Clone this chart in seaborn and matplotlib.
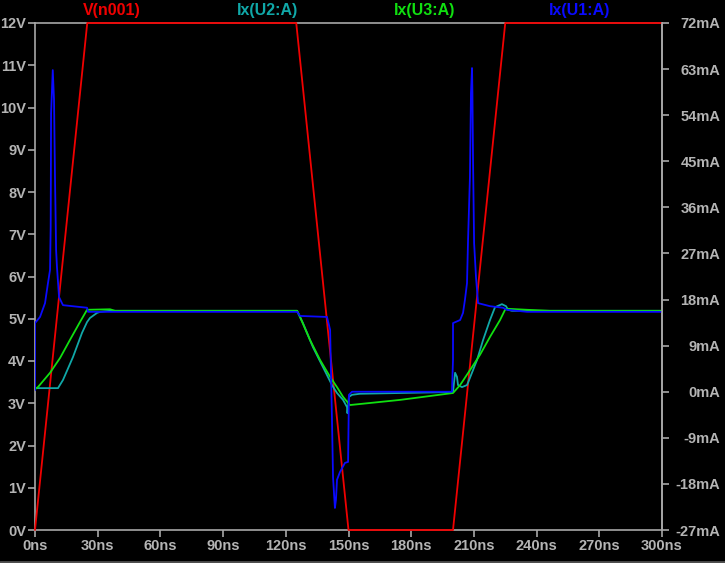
import numpy as np
import pandas as pd
import matplotlib
matplotlib.use("Agg")
import matplotlib.pyplot as plt
import seaborn as sns
from matplotlib.lines import Line2D

# V(n001) -- trapezoid drive, volts
t_v = [0, 25, 125, 150, 200, 225, 300]
v_n001 = [0, 12, 12, 0, 0, 12, 12]

# Ix(U2:A), mA
t_u2 = [0, 11.0, 13.4, 18.2, 22.5, 24.9, 26.3, 29.7, 31.1, 35.9, 125.4, 128.2, 133.0, 137.8,
        142.1, 144.5, 147.4, 149.3, 149.5, 149.8, 150.2, 151.7, 155.5, 200.0, 201.0, 201.9,
        202.4, 204.3, 206.7, 208.1, 211.5, 214.4, 217.7, 220.1, 223.4, 225.4, 226.3, 228.2, 300]
i_u2 = [0.7, 0.7, 2.3, 6.8, 11.5, 13.6, 14.4, 15.4, 15.6, 15.8, 15.8, 13.4, 8.7, 4.8,
        1.3, -0.25, -1.6, -3.0, -4.2, -3.0, -1.0, -0.6, -0.4, -0.05, 3.7, 2.9,
        1.3, 0.9, 1.3, 2.7, 6.2, 10.1, 14.0, 16.5, 17.1, 16.7, 16.0, 15.8, 15.8]

# Ix(U3:A), mA
t_u3 = [0, 1.4, 7.2, 12.0, 16.7, 21.5, 24.9, 35.9, 38.3, 125.4, 126.8, 131.6, 136.4, 141.2,
        144.5, 147.4, 149.8, 150.7, 174.6, 200.0, 203.4, 208.1, 212.9, 217.7, 222.5, 224.9,
        225.8, 235.4, 246.4, 300]
i_u3 = [0.5, 0.9, 3.7, 6.6, 10.1, 13.6, 16.0, 16.1, 15.8, 15.8, 14.6, 10.1, 6.2, 2.9,
        0.9, -1.0, -2.2, -2.6, -1.6, -0.25, 1.3, 4.2, 7.2, 10.7, 14.0, 16.0,
        16.2, 16.0, 15.8, 15.8]

# Ix(U1:A), mA
t_u1 = [0, 0.01, 2.4, 4.8, 6.2, 7.2, 7.5, 7.7, 8.5, 9.1, 9.6, 10.1, 10.5, 11.5, 12.9, 13.4,
        24.9, 25.4, 125.4, 126.8, 139.7, 141.2, 142.1, 142.6, 143.5, 144.0, 144.5, 145.9,
        148.3, 149.8, 150.2, 151.7, 199.5, 200.0, 200.01, 203.4, 204.8, 205.7, 206.7, 207.2,
        208.1, 208.6, 209.1, 209.3, 209.6, 210.1, 211.0, 212.0, 217.7, 223.9, 225.8, 235.4, 300]
i_u1 = [0.3, 13.4, 14.6, 17.3, 21.2, 23.8, 32.2, 54.4, 62.8, 57.0, 40.8, 27.7, 24.4, 18.5, 17.3, 16.9,
        16.4, 15.6, 15.6, 14.8, 14.6, 12.1, -5.5, -16.7, -22.7, -21.1, -17.2, -15.7,
        -13.9, -13.7, -0.6, 0.0, 0.0, 6.2, 13.4, 14.0, 15.4, 17.9, 21.2, 29.6,
        41.9, 58.3, 63.2, 58.3, 44.7, 29.0, 22.4, 17.3, 16.7, 16.4, 16.0, 15.6, 15.6]

x_ticks = list(range(0, 301, 30))
v_ticks = list(range(0, 13))
i_ticks = list(range(-27, 73, 9))

c_red = "#f00000"
c_cyan = "#10a8a8"
c_green = "#10e010"
c_blue = "#0a0aff"
c_axis = "#a8a8a8"
c_text = "#b4b4b4"

sns.set_style("dark", {"axes.facecolor": "black", "figure.facecolor": "black"})
plt.rcParams["font.family"] = ["Liberation Sans", "DejaVu Sans"]
plt.rcParams["font.weight"] = "bold"

fig = plt.figure(figsize=(7.25, 5.63), dpi=100)
fig.patch.set_facecolor("black")
ax = fig.add_axes([35 / 725, 33 / 563, 627 / 725, 507 / 563])
ax.set_facecolor("black")
ax2 = ax.twinx()

df_v = pd.DataFrame({"t": t_v, "v": v_n001})
sns.lineplot(data=df_v, x="t", y="v", ax=ax, color=c_red, lw=1.3,
             estimator=None, sort=False)
# the flat parts sit on the frame, draw them over it
for ln in ax.get_lines():
    ln.set_clip_on(False)
    ln.set_zorder(3)

df_u2 = pd.DataFrame({"t": t_u2, "i": i_u2})
df_u3 = pd.DataFrame({"t": t_u3, "i": i_u3})
df_u1 = pd.DataFrame({"t": t_u1, "i": i_u1})
sns.lineplot(data=df_u2, x="t", y="i", ax=ax2, color=c_cyan, lw=1.3, estimator=None, sort=False)
sns.lineplot(data=df_u3, x="t", y="i", ax=ax2, color=c_green, lw=1.3, estimator=None, sort=False)
sns.lineplot(data=df_u1, x="t", y="i", ax=ax2, color=c_blue, lw=1.3, estimator=None, sort=False)

ax.set_xlim(0, 300)
ax.set_ylim(0, 12)
ax2.set_ylim(-27, 72)
ax.set_xlabel("")
ax.set_ylabel("")
ax2.set_ylabel("")
ax.grid(False)
ax2.grid(False)

ax.set_xticks(x_ticks)
ax.set_xticklabels([f"{x}ns" for x in x_ticks])
ax.set_yticks(v_ticks)
ax.set_yticklabels([f"{v}V" for v in v_ticks])
ax2.set_yticks(i_ticks)
ax2.set_yticklabels([f"{i}mA" for i in i_ticks])

for a in (ax, ax2):
    for s in a.spines.values():
        s.set_color(c_axis)
        s.set_linewidth(1.2)
ax2.spines["top"].set_visible(False)
ax2.spines["bottom"].set_visible(False)
ax2.spines["left"].set_visible(False)
ax.tick_params(axis="both", colors=c_axis, labelcolor=c_text, length=5, width=1.2,
               labelsize=10.5, pad=1.5, direction="out", left=True, bottom=True)
ax2.tick_params(axis="y", colors=c_axis, labelcolor=c_text, length=5, width=1.2,
                labelsize=10.5, pad=37, direction="out", right=True)
for lbl in ax2.get_yticklabels():
    lbl.set_horizontalalignment("right")
for lbl in ax.get_xticklabels() + ax.get_yticklabels() + ax2.get_yticklabels():
    lbl.set_fontweight("bold")

# trace names across the top
names = ["V(n001)", "Ix(U2:A)", "Ix(U3:A)", "Ix(U1:A)"]
name_colors = [c_red, c_cyan, c_green, c_blue]
name_x = [112, 268, 425, 580]
for n, c, x in zip(names, name_colors, name_x):
    fig.text(x / 725, 1 - 11 / 563, n, color=c, ha="center", va="center",
             fontsize=11.5, fontweight="bold")

fig.add_artist(Line2D([0, 1], [1.5 / 563, 1.5 / 563], color="#505050", lw=2,
                      transform=fig.transFigure))

fig.savefig("out.png", dpi=100, facecolor="black")
